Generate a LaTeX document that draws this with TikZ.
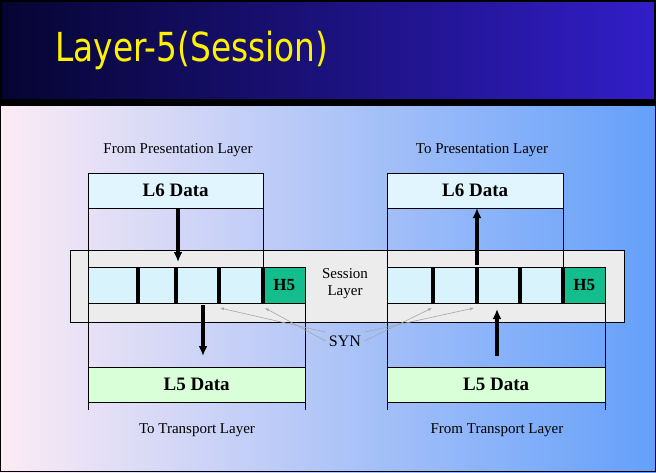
\documentclass[tikz,border=0pt]{standalone}
\usepackage{fontspec}
\usetikzlibrary{arrows.meta}
\setmainfont{Liberation Serif}
\newfontfamily\titlefont[FakeStretch=0.82]{DejaVu Sans}
\definecolor{bgright}{RGB}{100,160,250}
\definecolor{bgleft}{RGB}{252,235,245}
\definecolor{barleft}{RGB}{5,5,50}
\definecolor{barright}{RGB}{50,30,200}
\definecolor{hgreen}{RGB}{20,190,140}
\begin{document}
\begin{tikzpicture}[x=1pt,y=-1pt,
  cell/.style={draw=black,fill=cyan!15,minimum height=36pt,inner sep=0pt,anchor=north west},
  hfive/.style={draw=black,fill=hgreen,minimum height=36pt,minimum width=42pt,inner sep=0pt,anchor=north west,font=\bfseries\fontsize{17}{17}\selectfont},
  databox/.style={draw=black,inner sep=0pt,anchor=north west,minimum height=35pt,font=\bfseries\fontsize{19}{19}\selectfont},
  lbl/.style={font=\fontsize{15}{15}\selectfont},
  bigarrow/.style={-{Latex[length=10pt,width=9pt]},line width=3.5pt},
  bar/.style={line width=4pt},
  synarrow/.style={-{Latex[length=4pt,width=3pt]},gray!70,line width=0.6pt}]
\useasboundingbox (0,0) rectangle (656,472);
\shade[left color=bgleft,right color=bgright] (0,100) rectangle (656,472);
\shade[left color=barleft,right color=barright] (0,0) rectangle (656,100);
\draw[line width=2pt] (1,1) rectangle (655,100);
\fill (0,100) rectangle (656,106);
\draw (0.5,0.5) rectangle (655.5,471.5);
\node[anchor=west,text=yellow,font=\titlefont\fontsize{40}{40}\selectfont] (title) at (52,50) {Layer-5(Session)};
% band
\node[draw=black,fill=gray!15,minimum width=554pt,minimum height=72pt,anchor=north west,inner sep=0] (band) at (70,250) {};
% vertical lines
\draw (88,173) -- (88,410) (263,173) -- (263,267) (305,303) -- (305,410);
\draw (387,173) -- (387,410) (563,173) -- (563,267) (605,303) -- (605,410);
% strips
\node[cell,minimum width=175pt] (ls) at (88,267) {};
\node[hfive] (lh) at (263,267) {H5};
\node[cell,minimum width=176pt] (rs) at (387,267) {};
\node[hfive] (rh) at (563,267) {H5};
\foreach \x in {138,176,219,263} \draw[bar] (\x,267) -- (\x,303);
\foreach \x in {433,477,520,563} \draw[bar] (\x,267) -- (\x,303);
\node[font=\fontsize{15}{17}\selectfont,align=center] (sl) at (345,284) {Session\\Layer};
% data boxes
\node[databox,fill=cyan!12,minimum width=175pt] (l6l) at (88,173) {L6 Data};
\node[databox,fill=cyan!12,minimum width=176pt] (l6r) at (387,173) {L6 Data};
\node[databox,fill=green!15,minimum width=217pt] (l5l) at (88,367) {L5 Data};
\node[databox,fill=green!15,minimum width=218pt] (l5r) at (387,367) {L5 Data};
% labels
\node[lbl] (t1) at (178,150) {From Presentation Layer};
\node[lbl] (t2) at (482,150) {To Presentation Layer};
\node[lbl] (t3) at (197,430) {To Transport Layer};
\node[lbl] (t4) at (497,430) {From Transport Layer};
% arrows
\coordinate (a1) at (178,262); \draw[bigarrow] (178,208) -- (a1);
\coordinate (a2) at (203,356); \draw[bigarrow] (203,305) -- (a2);
\coordinate (a3) at (477,208); \draw[bigarrow] (477,265) -- (a3);
\coordinate (a4) at (497,309); \draw[bigarrow] (497,356) -- (a4);
\node[font=\fontsize{16}{16}\selectfont] (syn) at (345,341) {SYN};
\coordinate (s1) at (220,308); \coordinate (s2) at (265,308);
\coordinate (s3) at (432,308); \coordinate (s4) at (474,308);
\draw[synarrow] (syn.north west) -- (s1);
\draw[synarrow] (syn.west) -- (s2);
\draw[synarrow] (syn.east) -- (s3);
\draw[synarrow] (syn.north east) -- (s4);
\end{tikzpicture}
\end{document}
